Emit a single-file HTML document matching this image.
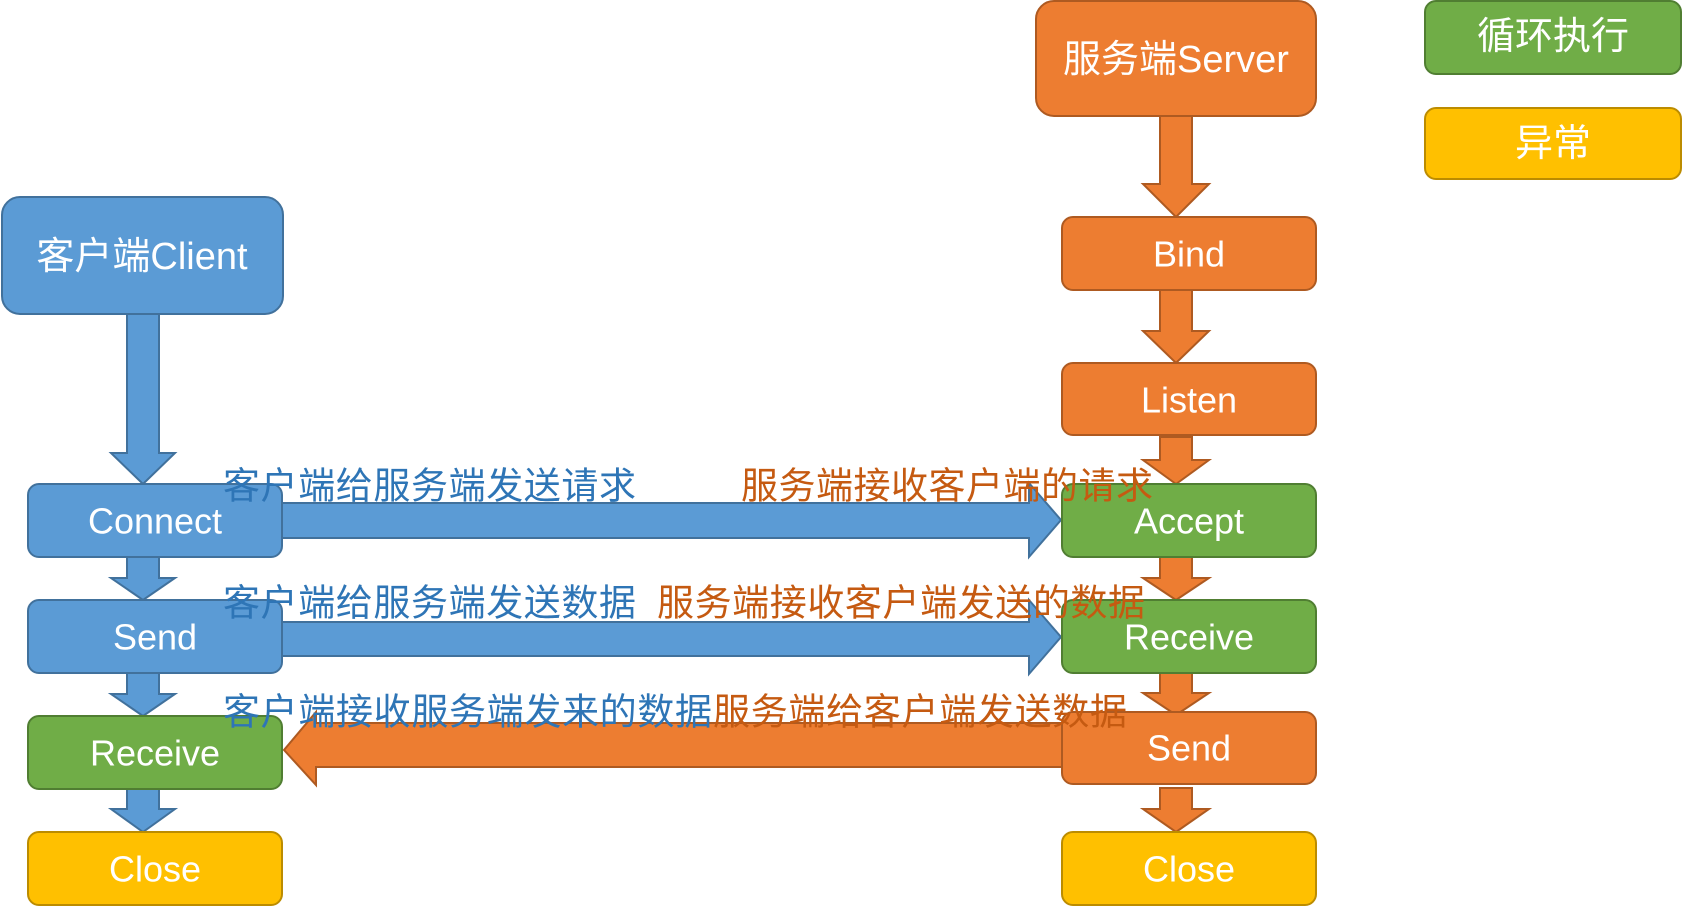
<!DOCTYPE html>
<html><head><meta charset="utf-8"><style>
html,body{margin:0;padding:0;background:#fff;}
svg{display:block}
.bt{font-family:"Liberation Sans","Noto Sans CJK SC",sans-serif;fill:#fff;text-anchor:middle;dominant-baseline:central}
.lb{font-family:"Liberation Sans","Noto Sans CJK SC",sans-serif;font-size:37px;dominant-baseline:central}
</style></head><body>
<svg width="1683" height="914" viewBox="0 0 1683 914" xmlns="http://www.w3.org/2000/svg">
<!-- horizontal arrows -->
<polygon points="282,503 1029,503 1029,483 1061,520 1029,557 1029,538 282,538" fill="#5B9BD5" stroke="#41719C" stroke-width="2"/>
<polygon points="282,622 1029,622 1029,600 1061,637 1029,674 1029,656 282,656" fill="#5B9BD5" stroke="#41719C" stroke-width="2"/>
<polygon points="1062,723 316,723 316,712 284,750 316,785 316,767 1062,767" fill="#ED7D31" stroke="#AE5A21" stroke-width="2"/>
<!-- left vertical arrows -->
<g fill="#5B9BD5" stroke="#41719C" stroke-width="2">
<polygon points="127,313 159,313 159,453 175,453 143,484 111,453 127,453"/>
<polygon points="127,557 159,557 159,578 175,578 143,600 111,578 127,578"/>
<polygon points="127,673 159,673 159,694 175,694 143,716 111,694 127,694"/>
<polygon points="127,789 159,789 159,809 175,809 143,832 111,809 127,809"/>
</g>
<!-- right vertical arrows -->
<g fill="#ED7D31" stroke="#AE5A21" stroke-width="2">
<polygon points="1160,116 1192,116 1192,184 1209,184 1176,217 1143,184 1160,184"/>
<polygon points="1160,290 1192,290 1192,331 1209,331 1176,363 1143,331 1160,331"/>
<polygon points="1160,437 1192,437 1192,460 1209,460 1176,484 1143,460 1160,460"/>
<polygon points="1160,557 1192,557 1192,578 1209,578 1176,600 1143,578 1160,578"/>
<polygon points="1160,673 1192,673 1192,693 1209,693 1176,715 1143,693 1160,693"/>
<polygon points="1160,788 1192,788 1192,809 1209,809 1176,832 1143,809 1160,809"/>
</g>
<!-- boxes -->
<rect x="2" y="197" width="281" height="117" rx="18" fill="#5B9BD5" stroke="#41719C" stroke-width="2"/>
<text class="bt" x="142" y="257" font-size="38">客户端Client</text>
<rect x="1036" y="1" width="280" height="115" rx="18" fill="#ED7D31" stroke="#AE5A21" stroke-width="2"/>
<text class="bt" x="1176" y="60" font-size="38">服务端Server</text>
<rect x="1425" y="1" width="256" height="73" rx="11" fill="#70AD47" stroke="#507E32" stroke-width="2"/>
<text class="bt" x="1553" y="37" font-size="38">循环执行</text>
<rect x="1425" y="108" width="256" height="71" rx="11" fill="#FFC000" stroke="#BC8C00" stroke-width="2"/>
<text class="bt" x="1553" y="144" font-size="38">异常</text>

<g stroke-width="2">
<rect x="1062" y="217" width="254" height="73" rx="11" fill="#ED7D31" stroke="#AE5A21"/>
<rect x="1062" y="363" width="254" height="72" rx="11" fill="#ED7D31" stroke="#AE5A21"/>
<rect x="1062" y="484" width="254" height="73" rx="11" fill="#70AD47" stroke="#507E32"/>
<rect x="1062" y="600" width="254" height="73" rx="11" fill="#70AD47" stroke="#507E32"/>
<rect x="1062" y="712" width="254" height="72" rx="11" fill="#ED7D31" stroke="#AE5A21"/>
<rect x="1062" y="832" width="254" height="73" rx="11" fill="#FFC000" stroke="#BC8C00"/>
<rect x="28" y="484" width="254" height="73" rx="11" fill="#5B9BD5" stroke="#41719C"/>
<rect x="28" y="600" width="254" height="73" rx="11" fill="#5B9BD5" stroke="#41719C"/>
<rect x="28" y="716" width="254" height="73" rx="11" fill="#70AD47" stroke="#507E32"/>
<rect x="28" y="832" width="254" height="73" rx="11" fill="#FFC000" stroke="#BC8C00"/>
</g>
<g class="bt" font-size="36">
<text class="bt" x="1189" y="254">Bind</text>
<text class="bt" x="1189" y="400">Listen</text>
<text class="bt" x="1189" y="521">Accept</text>
<text class="bt" x="1189" y="637">Receive</text>
<text class="bt" x="1189" y="748">Send</text>
<text class="bt" x="1189" y="869">Close</text>
<text class="bt" x="155" y="521">Connect</text>
<text class="bt" x="155" y="637">Send</text>
<text class="bt" x="155" y="753">Receive</text>
<text class="bt" x="155" y="869">Close</text>
</g>
<!-- labels -->
<text class="lb" x="223" y="486" fill="#2E75B6" textLength="413">客户端给服务端发送请求</text>
<text class="lb" x="741" y="486" fill="#C55A11" textLength="412">服务端接收客户端的请求</text>
<text class="lb" x="223" y="603" fill="#2E75B6" textLength="413">客户端给服务端发送数据</text>
<text class="lb" x="657" y="603" fill="#C55A11" textLength="488">服务端接收客户端发送的数据</text>
<text class="lb" x="223" y="712" fill="#2E75B6" textLength="489">客户端接收服务端发来的数据</text>
<text class="lb" x="713" y="712" fill="#C55A11" textLength="414">服务端给客户端发送数据</text>
</svg>
</body></html>
